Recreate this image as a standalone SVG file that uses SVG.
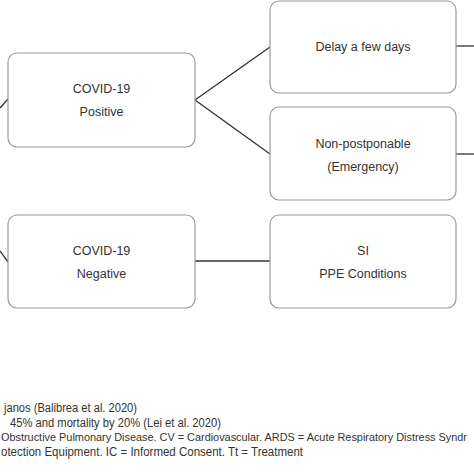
<svg xmlns="http://www.w3.org/2000/svg" width="474" height="474" viewBox="0 0 474 474">
<style>
.box{fill:#fff;stroke:#9a9a9a;stroke-width:1.2}
.lbl{font-family:"Liberation Sans",Arial,sans-serif;font-size:12.5px;fill:#333;text-anchor:middle}
.ft{font-family:"Liberation Sans",Arial,sans-serif;font-size:12.5px;fill:#333}
.con{stroke:#333;stroke-width:1.3;fill:none}
</style>
<rect width="474" height="474" fill="#fff"/>
<g id="connectors">
<line class="con" x1="0" y1="108" x2="8" y2="99"/>
<line class="con" x1="0" y1="251" x2="8" y2="262"/>
<polyline class="con" points="270,47 195,100 270,154"/>
<line class="con" x1="456" y1="46" x2="474" y2="46"/>
<line class="con" x1="456" y1="154" x2="474" y2="154"/>
<line class="con" x1="195" y1="261" x2="270" y2="261"/>
</g>
<g id="positive">
<rect class="box" x="8" y="53" width="187" height="94" rx="9"/>
<text class="lbl" x="101.5" y="92.5">COVID-19</text>
<text class="lbl" x="101.5" y="115.5">Positive</text>
</g>
<g id="delay">
<rect class="box" x="270" y="1" width="186" height="92" rx="9"/>
<text class="lbl" x="363" y="51">Delay a few days</text>
</g>
<g id="nonpostponable">
<rect class="box" x="270" y="107" width="186" height="93" rx="9"/>
<text class="lbl" x="363" y="147.5">Non-postponable</text>
<text class="lbl" x="363" y="170.5">(Emergency)</text>
</g>
<g id="negative">
<rect class="box" x="8" y="215" width="187" height="93" rx="9"/>
<text class="lbl" x="101.5" y="254.5">COVID-19</text>
<text class="lbl" x="101.5" y="277.5">Negative</text>
</g>
<g id="si">
<rect class="box" x="270" y="215" width="186" height="93" rx="9"/>
<text class="lbl" x="363" y="254.5">SI</text>
<text class="lbl" x="363" y="277.5">PPE Conditions</text>
</g>
<g id="footer">
<text class="ft" x="4" y="412" textLength="133" lengthAdjust="spacingAndGlyphs">janos (Balibrea et al. 2020)</text>
<text class="ft" x="10" y="427" textLength="211" lengthAdjust="spacingAndGlyphs">45% and mortality by 20% (Lei et al. 2020)</text>
<text class="ft" x="1" y="441" style="font-size:11px" textLength="466" lengthAdjust="spacingAndGlyphs">Obstructive Pulmonary Disease. CV = Cardiovascular. ARDS = Acute Respiratory Distress Syndr</text>
<text class="ft" x="1" y="456" textLength="302" lengthAdjust="spacingAndGlyphs">otection Equipment. IC = Informed Consent. Tt = Treatment</text>
</g>
</svg>
